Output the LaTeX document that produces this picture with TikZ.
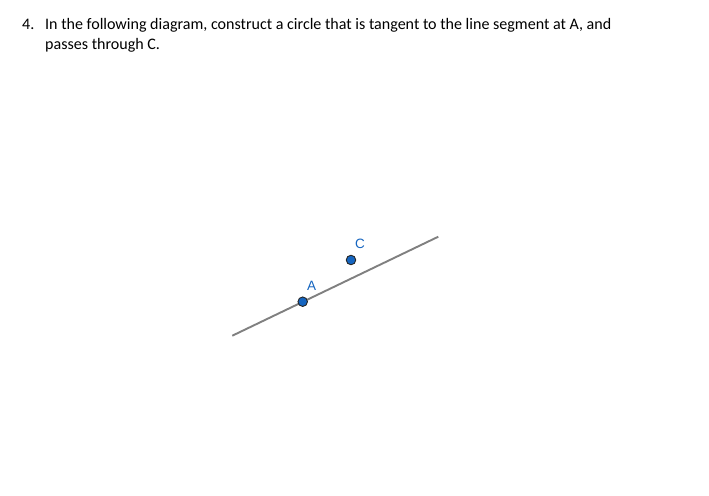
\documentclass[tikz,border=0pt]{standalone}
\usepackage{fontspec}
\setmainfont{Carlito}
\newfontfamily\labelfont{Liberation Sans}
\definecolor{ptblue}{HTML}{1565C0}
\definecolor{linegray}{HTML}{808080}
\tikzset{
  question/.style={anchor=base west, inner sep=0pt, font=\fontsize{16.05}{19.5}\selectfont},
  ptlabel/.style={inner sep=0pt, text=ptblue, font=\labelfont\fontsize{13.5}{15}\selectfont},
  pt/.style={circle, draw=black!85, fill=ptblue, line width=0.9pt, minimum size=9.5pt, inner sep=0pt},
  seg/.style={draw=linegray, line width=1.9pt}
}
\begin{document}
\begin{tikzpicture}[x=1pt,y=-1pt]
\useasboundingbox[fill=white] (0,0) rectangle (709,495);
\node[question] (num) at (22,30) {4.};
\node[question] (l1) at (45,30) {In the following diagram, construct a circle that is tangent to the line segment at A, and};
\node[question] (l2) at (45,49.5) {passes through C.};
\coordinate (P) at (232.3,335.7);
\coordinate (Q) at (438.3,236.7);
\draw[seg] (P) -- (Q);
\node[pt] (A) at (302.7,301.7) {};
\node[pt] (C) at (351,260) {};
\node[ptlabel] (Alab) at (311.5,286) {A};
\node[ptlabel] (Clab) at (360,244) {C};
\end{tikzpicture}
\end{document}
